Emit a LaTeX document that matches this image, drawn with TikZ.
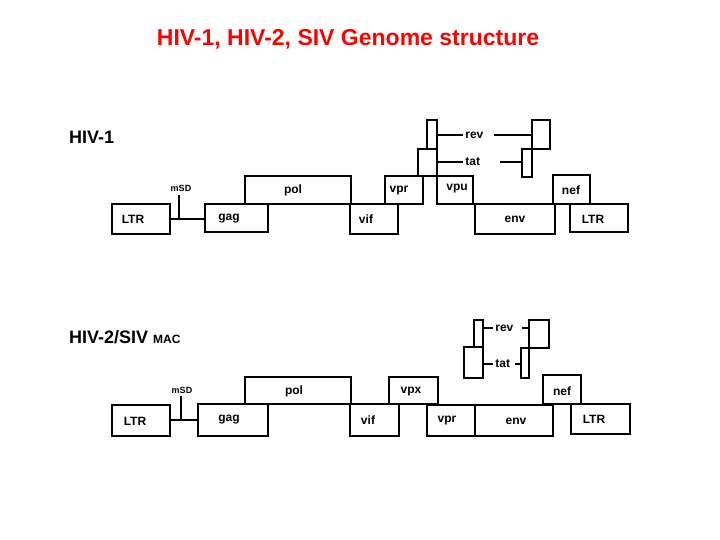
\documentclass[tikz,border=0pt]{standalone}
\usepackage{fontspec}
\setmainfont{Liberation Sans}
\begin{document}
\begin{tikzpicture}[x=0.5pt,y=-0.5pt,
  g/.style={draw,line width=0.6pt},
  lab/.style={font=\bfseries\fontsize{6}{7}\selectfont},
  big/.style={font=\bfseries\fontsize{9}{10}\selectfont,anchor=west}]
\useasboundingbox (0,0) rectangle (720,540);
\node[font=\bfseries\fontsize{11.5}{14}\selectfont, text=red] (title) at (348,39) {HIV-1, HIV-2, SIV Genome structure};
% HIV-1
\node[big] (h1) at (62,137) {HIV-1};
\draw[g] (112,204) rectangle (170,234); \node[lab] (l1) at (133,219) {LTR};
\draw[g] (170,219) -- (205,219); \draw[g] (179,219) -- (179,195);
\node[lab,font=\bfseries\fontsize{4.5}{5}\selectfont] (m1) at (181,188) {mSD};
\draw[g] (205,204) rectangle (268,232); \node[lab] (gag1) at (229,219) {gag};
\draw[g] (245,176) rectangle (351,204); \node[lab] (pol1) at (293,190) {pol};
\draw[g] (350,204) rectangle (398,234); \node[lab] (vif1) at (366,219) {vif};
\draw[g] (385,176) rectangle (423,204); \node[lab] (vpr1) at (399,191) {vpr};
\draw[g] (427,120) rectangle (437,149);
\draw[g] (418,149) rectangle (437,176);
\draw[g] (437,176) rectangle (473,204); \node[lab] (vpu1) at (457,189) {vpu};
\draw[g] (475,204) rectangle (555,234); \node[lab] (env1) at (515,219) {env};
\draw[g] (553,175) rectangle (590,204); \node[lab] (nef1) at (571,190) {nef};
\draw[g] (570,204) rectangle (628,232); \node[lab] (l1b) at (593,219) {LTR};
\draw[g] (532,120) rectangle (550,149);
\draw[g] (522,149) rectangle (532,177);
\coordinate (r1a) at (463,135); \coordinate (t1a) at (463,162);
\node[lab,anchor=west,inner sep=1pt] (rev1) at (r1a) {rev};
\node[lab,anchor=west,inner sep=1pt] (tat1) at (t1a) {tat};
\draw[g] (437,135) -- (r1a); \draw[g] (494,135) -- (532,135);
\draw[g] (437,162) -- (t1a); \draw[g] (500,162) -- (522,162);
% HIV-2
\node[big] (h2) at (62,337) {HIV-2/SIV \fontsize{6}{7}\selectfont MAC};
\draw[g] (112,405) rectangle (170,436); \node[lab] (l2) at (135,421) {LTR};
\draw[g] (170,420) -- (198,420); \draw[g] (181,420) -- (181,396);
\node[lab,font=\bfseries\fontsize{4.5}{5}\selectfont] (m2) at (182,390) {mSD};
\draw[g] (198,404) rectangle (268,436); \node[lab] (gag2) at (229,420) {gag};
\draw[g] (245,377) rectangle (351,404); \node[lab] (pol2) at (294,391) {pol};
\draw[g] (350,404) rectangle (399,436); \node[lab] (vif2) at (368,420) {vif};
\draw[g] (389,377) rectangle (438,404); \node[lab] (vpx2) at (411,392) {vpx};
\draw[g] (427,405) rectangle (475,436); \node[lab] (vpr2) at (447,421) {vpr};
\draw[g] (475,405) rectangle (553,436); \node[lab] (env2) at (516,421) {env};
\draw[g] (543,375) rectangle (581,404); \node[lab] (nef2) at (562,391) {nef};
\draw[g] (571,404) rectangle (630,434); \node[lab] (l2b) at (594,419) {LTR};
\draw[g] (474,320) rectangle (483,347);
\draw[g] (464,347) rectangle (483,378);
\draw[g] (529,320) rectangle (549,348);
\draw[g] (521,348) rectangle (529,378);
\coordinate (r2a) at (493,328); \coordinate (t2a) at (493,364);
\node[lab,anchor=west,inner sep=1pt] (rev2) at (r2a) {rev};
\node[lab,anchor=west,inner sep=1pt] (tat2) at (t2a) {tat};
\draw[g] (483,328) -- (r2a); \draw[g] (522,328) -- (529,328);
\draw[g] (483,364) -- (t2a); \draw[g] (515,364) -- (521,364);
\end{tikzpicture}
\end{document}
